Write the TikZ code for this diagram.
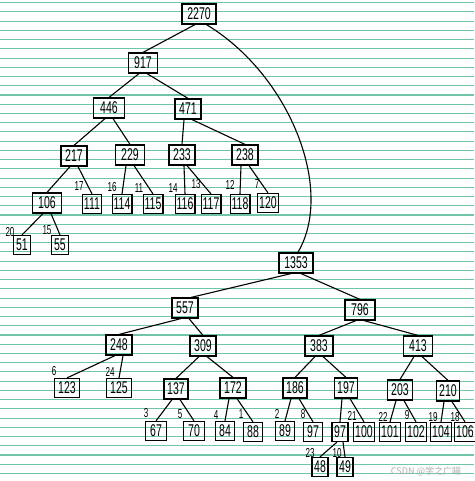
\documentclass[tikz,border=0pt]{standalone}
\usepackage{fontspec}
\newfontfamily\handfont{Liberation Sans}[FakeStretch=0.62]
\newfontfamily\cjkfont{Noto Sans CJK SC}
\definecolor{paperline}{RGB}{112,196,168}
\definecolor{markgray}{RGB}{175,175,175}

\begin{document}
\begin{tikzpicture}[x=1pt, y=-1pt,
    box/.style={rectangle, draw, line width=1.2pt, inner xsep=1.5pt, inner ysep=0pt,
                minimum width=26pt, minimum height=20pt, font=\handfont\fontsize{17}{17}\selectfont},
    leaf/.style={box, minimum width=19pt, minimum height=19pt},
    link/.style={line width=1.1pt},
    wt/.style={font=\handfont\fontsize{13}{13}\selectfont, inner sep=0pt}]
    % paper
    \useasboundingbox (0,0) rectangle (474,481);
    \fill[white] (0,0) rectangle (474,481);
    \foreach \k in {0,...,51}
        \draw[paperline, line width=1.1pt] (0,{2.7+9.23*\k}) -- (474,{2.7+9.23*\k});

    % upper tree
    \node[box, minimum width=34pt] (n2270) at (199,14) {2270};
    \node[box, minimum width=29pt] (n917) at (143,63) {917};
    \node[box, minimum width=31pt] (n446) at (109,108) {446};
    \node[box] (n471) at (188,109) {471};
    \node[box] (n217) at (74,156) {217};
    \node[box, minimum width=29pt] (n229) at (130,155) {229};
    \node[box] (n233) at (182,155) {233};
    \node[box] (n238) at (245,155) {238};
    \node[box, minimum width=29pt] (n106a) at (47,203) {106};
    \node[leaf] (n111) at (92,204) {111};
    \node[leaf] (n114) at (122,204) {114};
    \node[leaf] (n115) at (153,204) {115};
    \node[leaf] (n116) at (185,204) {116};
    \node[leaf] (n117) at (211,204) {117};
    \node[leaf] (n118) at (240,204) {118};
    \node[leaf] (n120) at (268,203) {120};
    \node[leaf, minimum width=17pt] (n51) at (22,245) {51};
    \node[leaf, minimum width=17pt] (n55) at (60,245) {55};

    % lower tree
    \node[box, minimum width=34pt] (n1353) at (296,263) {1353};
    \node[box] (n557) at (185,308) {557};
    \node[box, minimum width=30pt] (n796) at (360,310) {796};
    \node[box] (n248) at (119,345) {248};
    \node[box] (n309) at (203,346) {309};
    \node[box, minimum width=28pt] (n383) at (319,346) {383};
    \node[box, minimum width=29pt] (n413) at (418,346) {413};
    \node[leaf, minimum width=25pt] (n123) at (67,388) {123};
    \node[leaf, minimum width=25pt] (n125) at (119,388) {125};
    \node[box, minimum width=24pt] (n137) at (176,389) {137};
    \node[box] (n172) at (233,388) {172};
    \node[box, minimum width=24pt] (n186) at (295,388) {186};
    \node[box, minimum width=23pt] (n197) at (346,388) {197};
    \node[box, minimum width=25pt] (n203) at (400,390) {203};
    \node[box, minimum width=23pt] (n210) at (448,391) {210};
    \node[leaf, minimum width=21pt] (n67) at (156,431) {67};
    \node[leaf, minimum width=21pt] (n70) at (194,431) {70};
    \node[leaf] (n84) at (225,431) {84};
    \node[leaf] (n88) at (253,432) {88};
    \node[leaf] (n89) at (285,431) {89};
    \node[leaf] (n97a) at (313,432) {97};
    \node[leaf, minimum width=16pt] (n97b) at (340,432) {97};
    \node[leaf] (n100) at (364,432) {100};
    \node[leaf] (n101) at (390,432) {101};
    \node[leaf] (n102) at (416,432) {102};
    \node[leaf] (n104) at (441,432) {104};
    \node[leaf, minimum width=17pt] (n106b) at (465,432) {106};
    \node[leaf, minimum width=16pt] (n48) at (320,467) {48};
    \node[leaf, minimum width=16pt] (n49) at (345,467) {49};

    % links
    \draw[link] ([xshift=-4pt]n2270.south) -- (n917.north);
    \draw[link] ([xshift=-4pt]n917.south) -- (n446.north);
    \draw[link] ([xshift=4pt]n917.south) -- (n471.north);
    \draw[link] ([xshift=-4pt]n446.south) -- (n217.north);
    \draw[link] ([xshift=4pt]n446.south) -- (n229.north);
    \draw[link] ([xshift=-4pt]n471.south) -- (n233.north);
    \draw[link] ([xshift=4pt]n471.south) -- (n238.north);
    \draw[link] ([xshift=-4pt]n217.south) -- (n106a.north);
    \draw[link] ([xshift=4pt]n217.south) -- (n111.north);
    \draw[link] ([xshift=-4pt]n229.south) -- (n114.north);
    \draw[link] ([xshift=4pt]n229.south) -- (n115.north);
    \draw[link] ([xshift=2pt]n233.south) -- (n116.north);
    \draw[link] ([xshift=5pt]n233.south) -- (n117.north);
    \draw[link] ([xshift=-4pt]n238.south) -- (n118.north);
    \draw[link] ([xshift=4pt]n238.south) -- (n120.north);
    \draw[link] ([xshift=-4pt]n106a.south) -- (n51.north);
    \draw[link] ([xshift=4pt]n106a.south) -- (n55.north);
    \draw[link] (n2270.-55) .. controls (290,75) and (335,190) .. (n1353.80);
    \draw[link] ([xshift=-5pt]n1353.south) -- (n557.60);
    \draw[link] ([xshift=5pt]n1353.south) -- (n796.north);
    \draw[link] ([xshift=-4pt]n557.south) -- (n248.north);
    \draw[link] ([xshift=4pt]n557.south) -- (n309.north);
    \draw[link] ([xshift=-4pt]n796.south) -- (n383.north);
    \draw[link] ([xshift=4pt]n796.south) -- (n413.north);
    \draw[link] ([xshift=-4pt]n248.south) -- (n123.north);
    \draw[link] ([xshift=4pt]n248.south) -- (n125.north);
    \draw[link] ([xshift=-4pt]n309.south) -- (n137.north);
    \draw[link] ([xshift=4pt]n309.south) -- (n172.north);
    \draw[link] ([xshift=-4pt]n383.south) -- (n186.north);
    \draw[link] ([xshift=4pt]n383.south) -- (n197.north);
    \draw[link] ([xshift=-4pt]n413.south) -- (n203.north);
    \draw[link] ([xshift=4pt]n413.south) -- (n210.north);
    \draw[link] ([xshift=-4pt]n137.south) -- (n67.north);
    \draw[link] ([xshift=4pt]n137.south) -- (n70.north);
    \draw[link] ([xshift=-4pt]n172.south) -- (n84.north);
    \draw[link] ([xshift=4pt]n172.south) -- (n88.north);
    \draw[link] ([xshift=-4pt]n186.south) -- (n89.north);
    \draw[link] ([xshift=4pt]n186.south) -- (n97a.north);
    \draw[link] ([xshift=-4pt]n197.south) -- (n97b.north);
    \draw[link] ([xshift=4pt]n197.south) -- (n100.north);
    \draw[link] ([xshift=-4pt]n203.south) -- (n101.north);
    \draw[link] ([xshift=4pt]n203.south) -- (n102.north);
    \draw[link] ([xshift=-4pt]n210.south) -- (n104.north);
    \draw[link] ([xshift=4pt]n210.south) -- (n106b.north);
    \draw[link] ([xshift=-3pt]n97b.south) -- (n48.north);
    \draw[link] ([xshift=3pt]n97b.south) -- (n49.north);

    % weights
    \node[wt] (w20) at (10,232) {20};
    \node[wt] (w15) at (47,230) {15};
    \node[wt] (w17) at (79,186) {17};
    \node[wt] (w16) at (112,187) {16};
    \node[wt] (w11) at (139,188) {11};
    \node[wt] (w14) at (173,188) {14};
    \node[wt] (w13) at (196,184) {13};
    \node[wt] (w12) at (230,185) {12};
    \node[wt] (w7) at (257,184) {7};
    \node[wt] (w6) at (54,371) {6};
    \node[wt] (w24) at (110,372) {24};
    \node[wt] (w3) at (146,413) {3};
    \node[wt] (w5) at (180,414) {5};
    \node[wt] (w4) at (216,415) {4};
    \node[wt] (w1) at (241,414) {1};
    \node[wt] (w2) at (277,414) {2};
    \node[wt] (w8) at (303,414) {8};
    \node[wt] (w21) at (352,416) {21};
    \node[wt] (w22) at (383,417) {22};
    \node[wt] (w9) at (407,415) {9};
    \node[wt] (w19) at (433,417) {19};
    \node[wt] (w18) at (455,417) {18};
    \node[wt] (w23) at (310,453) {23};
    \node[wt] (w10) at (337,453) {10};

    % watermark
    \node[markgray, font=\cjkfont\fontsize{9}{9}\selectfont, inner sep=0pt] (mark) at (426,471) {CSDN @学之广喵};
\end{tikzpicture}
\end{document}
